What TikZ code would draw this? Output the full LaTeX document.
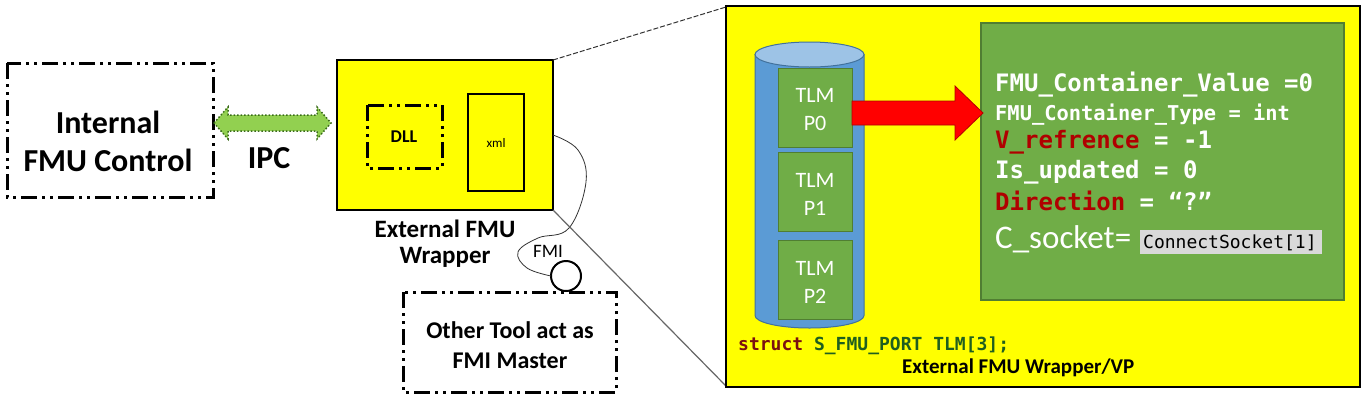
\documentclass[tikz,border=0pt]{standalone}
\usepackage{fontspec}
\setmainfont{Carlito}
\newfontfamily\mono{DejaVu Sans Mono}
\usetikzlibrary{calc}
\definecolor{wyellow}{HTML}{FFFF00}
\definecolor{ipcgreen}{HTML}{92D050}
\definecolor{ipcborder}{HTML}{3A6B1A}
\definecolor{tlmgreen}{HTML}{70AD47}
\definecolor{tlmborder}{HTML}{507E32}
\definecolor{cylblue}{HTML}{5B9BD5}
\definecolor{cyltop}{HTML}{9DC3E6}
\definecolor{cylborder}{HTML}{41719C}
\definecolor{darkred}{HTML}{B00000}
\definecolor{structred}{HTML}{7A1010}
\definecolor{structgreen}{HTML}{1F5F1F}
\definecolor{socketgray}{HTML}{D9D9D9}
\tikzset{
  ddbox/.style={draw=black, line width=3pt, dash pattern=on 16pt off 5pt on 3pt off 5pt on 3pt off 5pt},
  ybox/.style={draw=black, fill=wyellow, line width=2pt},
  tlmbox/.style={draw=tlmborder, fill=tlmgreen, line width=1pt},
  tlmtext/.style={text=white, align=center, font=\fontsize{22}{28}\selectfont},
  codeline/.style={anchor=base west, inner sep=0pt, text=white, font=\mono\bfseries\fontsize{24}{28}\selectfont},
  bigtext/.style={align=center, font=\bfseries\fontsize{32}{38}\selectfont},
}
\begin{document}
\begin{tikzpicture}[x=1pt,y=-1pt]
\useasboundingbox (0,0) rectangle (1372,408);
% Internal FMU control
\draw[ddbox] (7,63) rectangle (213,197);
\node[bigtext] (ifc) at (108,141) {Internal\\FMU Control};
% IPC arrow
\draw[fill=ipcgreen, draw=ipcborder, line width=1.5pt, dotted]
  (214,123) -- (228,107) -- (228,115) -- (317,115) -- (317,107) -- (331,123)
  -- (317,139) -- (317,131) -- (228,131) -- (228,139) -- cycle;
\node[anchor=base, font=\bfseries\fontsize{32}{38}\selectfont, inner sep=0pt] (ipc) at (269,168) {IPC};
% External FMU wrapper
\draw[ybox] (337,60) rectangle (553,210);
\coordinate (wtr) at (553,60);
\coordinate (wbr) at (553,210);
\draw[ddbox] (367,105) rectangle (442,168);
\node[font=\bfseries\fontsize{18}{20}\selectfont] (dll) at (404,137) {DLL};
\draw[black, line width=2pt] (468,94) rectangle (524,191);
\node[font=\fontsize{13}{15}\selectfont] (xml) at (496,143) {xml};
\node[anchor=base, align=center, inner sep=0pt, font=\bfseries\fontsize{25}{26}\selectfont] (wlabel) at (445,263) {External FMU\\Wrapper};
% FMI
\node[anchor=base, inner sep=0pt, font=\fontsize{19}{20}\selectfont] (fmi) at (548,257) {FMI};
\node[draw=black, line width=2pt, circle, minimum size=30pt, inner sep=0pt] (sock) at (566,276) {};
\draw[black!80, line width=0.8pt] plot[smooth, tension=0.65] coordinates {(553,135) (578,150) (586,182) (569,228) (538,238) (518,252) (527,268) (551,276)};
% Other tool
\draw[ddbox] (403,292) rectangle (616,392);
\node[align=center, font=\bfseries\fontsize{24}{30}\selectfont] (other) at (510,345) {Other Tool act as\\FMI Master};
% Zoom lines
\draw[black!80, line width=1pt, dash pattern=on 5pt off 2pt] (wtr) -- (726,7);
\draw[black!60, line width=1.2pt] (wbr) -- (726,386);
% Big wrapper
\draw[draw=black, fill=wyellow, line width=2.5pt] (726,6) rectangle (1360,387);
% Cylinder
\draw[fill=cylblue, draw=cylborder, line width=1pt] (755,54.5) -- (755,315.5) arc[start angle=180, end angle=360, x radius=54.5, y radius=-12.5] -- (864,54.5) -- cycle;
\draw[fill=cyltop, draw=cylborder, line width=1pt] (809.5,54.5) ellipse[x radius=54.5, y radius=12.5];
\draw[tlmbox] (778,68) rectangle (852,147);
\node[tlmtext] (p0) at (815,110) {TLM\\P0};
\draw[tlmbox] (778,152) rectangle (852,231);
\node[tlmtext] (p1) at (815,194) {TLM\\P1};
\draw[tlmbox] (778,240) rectangle (852,319);
\node[tlmtext] (p2) at (815,282) {TLM\\P2};
% Green struct box
\draw[fill=tlmgreen, draw=tlmborder, line width=1.5pt] (981,23) rectangle (1344,300);
% Red arrow
\draw[fill=red, draw=red!70!black, line width=0.8pt] (852,101) -- (955,101) -- (955,86) -- (983,113) -- (955,140) -- (955,125) -- (852,125) -- cycle;
% Code lines
\node[codeline] (l1) at (995,91) {FMU\_Container\_Value =0};
\node[codeline, font=\mono\bfseries\fontsize{20.4}{24}\selectfont] (l2) at (995,120) {FMU\_Container\_Type = int};
\node[codeline] (l3) at (995,148) {\textcolor{darkred}{V\_refrence} = -1};
\node[codeline] (l4) at (995,178) {Is\_updated = 0};
\node[codeline] (l5) at (995,210) {\textcolor{darkred}{Direction} = “?”};
\fill[socketgray] (1140,230) rectangle (1322,254);
\node[anchor=base west, inner sep=0pt, text=white, font=\fontsize{33}{36}\selectfont] (l6) at (995,248) {C\_socket=};
\node[anchor=base west, inner sep=0pt, text=black, font=\mono\fontsize{18}{20}\selectfont] (sockname) at (1143,248) {ConnectSocket[1]};
% struct line
\node[anchor=base west, inner sep=0pt, font=\mono\bfseries\fontsize{18}{20}\selectfont] (struct) at (738,350) {\textcolor{structred}{struct}\ \textcolor{structgreen}{S\_FMU\_PORT TLM[3];}};
\node[anchor=base west, inner sep=0pt, font=\bfseries\fontsize{21}{24}\selectfont] (vplabel) at (902,373) {External FMU Wrapper/VP};
\end{tikzpicture}
\end{document}
